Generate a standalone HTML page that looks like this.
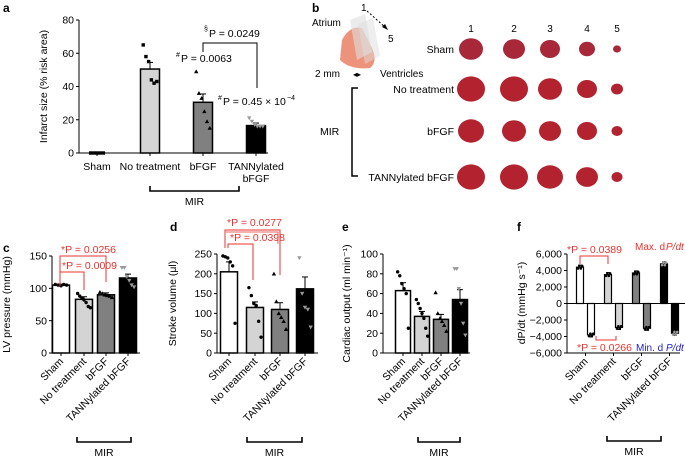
<!DOCTYPE html>
<html><head><meta charset="utf-8"><style>
body{margin:0;background:#fff}
svg{display:block;font-family:"Liberation Sans",Arial,sans-serif}
</style></head><body>
<svg id="fig" width="685" height="458" viewBox="0 0 685 458" xmlns="http://www.w3.org/2000/svg">
<g id="root"></g>
</svg>
<script>
// ---- data ----
const groups = ["Sham","No treatment","bFGF","TANNylated bFGF"];
const fills = ["#ffffff","#d4d4d4","#808080","#000000"];
// panel a
const aMeans = [0, 50.5, 30.5, 16.5];
const aErr = [0.3, 4, 5, 1.5];
const aPts = [[0,0,0,0,0],[65,58,55,44,42,43],[49,36,33,25,19,15],[21,19,17,16,16,16]];
const aTicks = [0,20,40,60,80];
// panel c
const cMeans = [105, 83, 90, 116];
const cErr = [1.5, 4, 3, 6];
const cPts = [[106,105,104,106,105],[92,88,85,82,78,72,70],[94,92,90,89,88,86],[132,132,118,112,105,102]];
const cTicks = [0,50,100,150];
// panel d
const dMeans = [205, 115, 110, 162];
const dErr = [25, 14, 17, 30];
const dPts = [[245,243,240,230,220,75],[165,145,125,120,80,40],[200,130,100,90,80,60],[240,150,115,110,65]];
const dTicks = [0,50,100,150,200,250];
// panel e
const eMeans = [63, 37, 34, 54];
const eErr = [8, 5, 5, 10];
const ePts = [[82,78,70,65,60,25],[54,50,45,40,35,25,17],[61,40,35,32,28,22],[85,85,65,50,30,18]];
const eTicks = [0,20,40,60,80,100];
// panel f
const fMax = [4400, 3500, 3700, 4800];
const fMin = [-3800, -2900, -3000, -3600];
const fTicks = [-6000,-4000,-2000,0,2000,4000,6000];
const fTickLabels = ["−6,000","−4,000","−2,000","0","2,000","4,000","6,000"];

const NS="http://www.w3.org/2000/svg";
const root=document.getElementById('root');
function el(tag,attrs,parent,text){const e=document.createElementNS(NS,tag);for(const k in attrs)e.setAttribute(k,attrs[k]);if(text!==undefined)e.textContent=text;(parent||root).appendChild(e);return e;}
function txt(x,y,s,opt,parent){opt=opt||{};const t=el('text',{x:x,y:y,'font-size':opt.size||10,'text-anchor':opt.anchor||'start',fill:opt.fill||'#000'},parent,s);if(opt.rot)t.setAttribute('transform','rotate('+opt.rot+' '+x+' '+y+')');if(opt.bold)t.setAttribute('font-weight','bold');return t;}
function line(x1,y1,x2,y2,c,w,parent){return el('line',{x1:x1,y1:y1,x2:x2,y2:y2,stroke:c||'#000','stroke-width':w||1},parent);}
function marker(x,y,i,parent){
  let m;
  if(i===0||i===1) m=el('rect',{x:x-1.7,y:y-1.7,width:3.4,height:3.4,fill:'#000'},parent);
  if(i===2) m=el('polygon',{points:(x)+','+(y-2.2)+' '+(x-2.2)+','+(y+1.7)+' '+(x+2.2)+','+(y+1.7),fill:'#000'},parent);
  if(i===3) m=el('polygon',{points:(x-2.2)+','+(y-1.7)+' '+(x+2.2)+','+(y-1.7)+' '+x+','+(y+2.2),fill:'#999'},parent);
  
  
}
function dot(x,y,parent){const m=el('circle',{cx:x,cy:y,r:1.7,fill:'#000'},parent);
  
  }

function barPanel(name,o){
  const g=el('g',{},root);
  
  
  const ys=v=>o.y0-(v-o.min)/(o.max-o.min)*(o.y0-o.y1);
  line(o.ax,o.y0+0.5,o.ax,o.y1,'#000',1,g);
  line(o.ax,o.y0,o.axEnd,o.y0,'#000',1,g);
  o.ticks.forEach((t,i)=>{const y=ys(t);line(o.ax-3,y,o.ax,y,'#000',1,g);
    const tl=txt(o.ax-5,y+3.6,o.tickLabels?o.tickLabels[i]:String(t),{anchor:'end',size:10.5},g);
    });
  o.means.forEach((m,i)=>{
    const cx=o.cx[i],y=ys(m);
    const r=el('rect',{x:cx-o.bw/2,y:y,width:o.bw,height:o.y0-y,fill:fills[i],stroke:'#000','stroke-width':1.5},g);
    
    
    const ye=ys(m+o.err[i]);
    line(cx,y,cx,ye,'#000',1,g);line(cx-3,ye,cx+3,ye,'#000',1,g);
    line(cx,o.y0,cx,o.y0+3,'#000',1,g);
    const pts=o.pts[i];
    pts.forEach((p,j)=>{const dx=(j-(pts.length-1)/2)*(o.bw/ (pts.length+1));
      if(o.shape==='dot'){ if(i===3) marker(cx+dx,ys(p),3,g); else if(i===2) marker(cx+dx,ys(p),2,g); else dot(cx+dx,ys(p),g);} else marker(cx+dx,ys(p),i,g);});
    if(o.rotLabels){const t=txt(cx+3,o.y0+9,groups[i],{anchor:'end',size:10.5,rot:-45},g);
      }
  });
  const yt=txt(o.ytx,(o.y0+o.y1)/2,o.ytitle,{anchor:'middle',size:10.5,rot:-90},g);
  
  const b=el('path',{d:`M${o.mir[0]} ${o.mir[2]-5} V${o.mir[2]} H${o.mir[1]} V${o.mir[2]-5}`,fill:'none',stroke:'#000','stroke-width':1.6},g);
  
  txt((o.mir[0]+o.mir[1])/2,o.mir[2]+14,'MIR',{anchor:'middle',size:10.5},g);
  return {g,ys};
}

[['a',3,12],['b',312,12],['c',3,252],['d',170,231],['e',342,231],['f',517,231]].forEach(l=>{
  const t=txt(l[1],l[2],l[0],{size:12,bold:true});
  });

// Panel a
const A=barPanel('panel-a-infarct-chart',{ax:79,axEnd:268,y0:153,y1:20,min:0,max:80,ticks:aTicks,means:aMeans,err:aErr,pts:aPts,cx:[97,150,203,256],bw:19,shape:'marker',ytitle:'Infarct size (% risk area)',ytx:47,mir:[150,239,191]});
[['Sham',97,170],['No treatment',150,170],['bFGF',203,170],['TANNylated',256,170],['bFGF',256,182]].forEach(l=>{
  const t=txt(l[1],l[2],l[0],{anchor:'middle',size:10.5},A.g);});
el('path',{d:'M203 52 V43 H257 V88',fill:'none',stroke:'#000','stroke-width':1},A.g);
txt(204,31,'§',{size:7},A.g);txt(209,37,'P = 0.0249',{size:10.5},A.g);
txt(176,57,'#',{size:7},A.g);txt(181,62,'P = 0.0063',{size:10.5},A.g);
txt(218,100,'#',{size:7},A.g);txt(223,105,'P = 0.45 × 10',{size:10.5},A.g);txt(287,100,'−4',{size:7},A.g);

// Panel b
const B=el('g',{},root);


el('path',{d:'M342 40 Q350 25 362 28 L372 48 Q378 62 370 68 Q350 70 340 60 Z',fill:'#e8785a',opacity:0.8},B);
el('path',{d:'M350 20 L365 14 L372 52 L357 60 Z',fill:'#ddd',opacity:0.6},B);
el('path',{d:'M358 24 L373 18 L380 56 L365 64 Z',fill:'#ddd',opacity:0.5},B);
el('path',{d:'M367 11 L386 28',stroke:'#000','stroke-dasharray':'2,2',fill:'none'},B);
el('polygon',{points:'388,30 382,27 385,24',fill:'#000'},B);
txt(312,26,'Atrium',{size:10},B);txt(361,11,'1',{size:10},B);txt(388,42,'5',{size:10},B);
txt(315,77,'2 mm',{size:10},B);txt(353,77,'◂▸',{size:8},B);txt(380,77,'Ventricles',{size:10},B);
const colsX=[471,514,550,587,617];
const sizes=[[24,22,20,16,8],[28,28,24,20,12],[26,24,22,20,11],[28,28,26,22,11]];
const rowsY=[49,89,131,177];
const rowNames=['Sham','No treatment','bFGF','TANNylated bFGF'];
colsX.forEach((x,i)=>txt(x,32,String(i+1),{anchor:'middle',size:10},B));
rowsY.forEach((y,r)=>{
  const t=txt(454,y+4,rowNames[r],{anchor:'end',size:10.5},B);
  colsX.forEach((x,c)=>{const s=sizes[r][c];const e=el('ellipse',{cx:x,cy:y,rx:s/2,ry:s/2*0.9,fill:r===0?'#a8283a':'#b3232f'},B);
    });
});
el('path',{d:'M358 88 H352 V176 H358',fill:'none',stroke:'#000','stroke-width':1.5},B);
txt(320,135,'MIR',{size:10.5},B);

// Panel c
const C=barPanel('panel-c-lv-pressure-chart',{ax:52,axEnd:140,y0:353,y1:256,min:0,max:150,ticks:cTicks,means:cMeans,err:cErr,pts:cPts,cx:[61,84,106,128],bw:17,shape:'dot',rotLabels:true,ytitle:'LV pressure (mmHg)',ytx:10,mir:[77,131,442]});
el('path',{d:'M60 286 V256 H106 V282',fill:'none',stroke:'#e8332f','stroke-width':1},C.g);
el('path',{d:'M60 286 V272 H84 V290',fill:'none',stroke:'#e8332f','stroke-width':1},C.g);
txt(61,253,'*P = 0.0256',{size:10.5,fill:'#e8332f'},C.g);
txt(62,269,'*P = 0.0009',{size:10.5,fill:'#e8332f'},C.g);

// Panel d
const D=barPanel('panel-d-stroke-volume-chart',{ax:217,axEnd:318,y0:353,y1:254,min:0,max:250,ticks:dTicks,means:dMeans,err:dErr,pts:dPts,cx:[229,255,280,305],bw:17,shape:'dot',rotLabels:true,ytitle:'Stroke volume (μl)',ytx:176,mir:[247,302,442]});
el('path',{d:'M225 248 V230 H280 V275',fill:'none',stroke:'#e8332f','stroke-width':1},D.g);
el('path',{d:'M228 248 V244 H253 V280',fill:'none',stroke:'#e8332f','stroke-width':1},D.g);
el('path',{d:'M226 232 H278 V244',fill:'none',stroke:'#e8332f','stroke-width':0.8},D.g);
txt(227,226,'*P = 0.0277',{size:10.5,fill:'#e8332f'},D.g);
txt(230,241,'*P = 0.0398',{size:10.5,fill:'#e8332f'},D.g);

// Panel e
barPanel('panel-e-cardiac-output-chart',{ax:383,axEnd:470,y0:353,y1:254,min:0,max:100,ticks:eTicks,means:eMeans,err:eErr,pts:ePts,cx:[403,422,441,460],bw:15,shape:'dot',rotLabels:true,ytitle:'Cardiac output (ml min⁻¹)',ytx:350,mir:[418,460,442]});

// Panel f
const F=el('g',{},root);


const fy=v=>303.5-v/6000*49.5;
line(567,254,567,353,'#000',1,F);line(567,fy(0),685,fy(0),'#000',1,F);line(567,353,680,353,'#000',1,F);
fTicks.forEach((t,i)=>{line(564,fy(t),567,fy(t),'#000',1,F);
  const tl=txt(562,fy(t)+3.6,fTickLabels[i],{anchor:'end',size:10.5},F);});
const fcx=[580,608,636,664];
groups.forEach((gname,i)=>{
  const px=fcx[i],nx=fcx[i]+11;
  [[px,fMax[i]],[nx,fMin[i]]].forEach(([x,v])=>{
    const y0=fy(0),y=fy(v);
    const r=el('rect',{x:x-3.5,y:Math.min(y0,y),width:7,height:Math.abs(y-y0),fill:fills[i],stroke:'#000','stroke-width':1.2},F);
    
    
    const ye=fy(v+(v>0?250:-250));line(x,y,x,ye,'#000',1,F);line(x-2,ye,x+2,ye,'#000',1,F);
    for(let k=0;k<4;k++){const m=el('circle',{cx:x-2+k*1.4,cy:fy(v+(k%2?150:-150)),r:1.3,fill:i===3?'#999':'#000'},F);
      }
  });
  line((px+nx)/2,353,(px+nx)/2,356,'#000',1,F);
  const t=txt((px+nx)/2+3,362,gname,{anchor:'end',size:10.5,rot:-45},F);
});
el('path',{d:'M580 264 V256 H608 V264',fill:'none',stroke:'#e8332f','stroke-width':1},F);
el('path',{d:'M596 336 V340 H616 V336',fill:'none',stroke:'#e8332f','stroke-width':1},F);
txt(567,253,'*P = 0.0389',{size:10.5,fill:'#e8332f'},F);
txt(635,250,'Max. d',{size:10,fill:'#e8332f'},F);txt(666,250,'P/dt',{size:10,fill:'#e8332f'},F).setAttribute('font-style','italic');
txt(577,351,'*P = 0.0266',{size:10.5,fill:'#e8332f'},F);
txt(636,351,'Min. d',{size:10,fill:'#2222cc'},F);txt(666,351,'P/dt',{size:10,fill:'#2222cc'},F).setAttribute('font-style','italic');
const ft=txt(525,303,'dP/dt (mmHg s⁻¹)',{anchor:'middle',size:10.5,rot:-90},F);

el('path',{d:'M607 436 V441 H661 V436',fill:'none',stroke:'#000','stroke-width':1.6},F);
txt(634,455,'MIR',{anchor:'middle',size:10.5},F);
</script>
</body></html>
